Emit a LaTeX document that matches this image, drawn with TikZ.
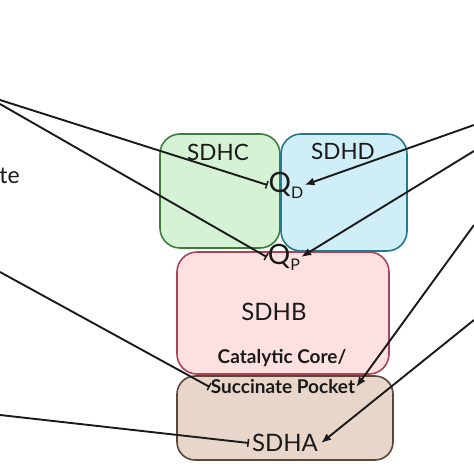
\documentclass[tikz,border=0pt]{standalone}
\usepackage{fontspec}
\setmainfont{Lato}
\usetikzlibrary{arrows.meta}
\definecolor{cfill}{HTML}{D5F2D5}\definecolor{cdraw}{HTML}{3D7D3D}
\definecolor{dfill}{HTML}{CFEEF7}\definecolor{ddraw}{HTML}{237A87}
\definecolor{bfill}{HTML}{FDE1E1}\definecolor{bdraw}{HTML}{A8445A}
\definecolor{afill}{HTML}{E8D6CB}\definecolor{adraw}{HTML}{5B4637}
\definecolor{ink}{HTML}{1A1A1A}
\tikzset{
  sub/.style={rounded corners=20pt, line width=1.6pt, inner sep=0pt},
  lbl/.style={inner sep=1pt, text=ink},
  inhib/.style={line width=1.9pt, draw=ink, -{Bar[width=8pt,line width=1.5pt]}},
  act/.style={line width=1.9pt, draw=ink, -{Latex[length=10pt,width=8pt]}},
}
\begin{document}
\begin{tikzpicture}[x=1pt,y=-1pt]
\useasboundingbox (0,0) rectangle (474,474);
% boxes
\node[sub, draw=cdraw, fill=cfill, minimum width=120pt, minimum height=114pt] (sdhc) at (220,191) {};
\node[sub, draw=ddraw, fill=dfill, minimum width=126pt, minimum height=117pt] (sdhd) at (344,192.5) {};
\node[sub, draw=adraw, fill=afill, minimum width=216pt, minimum height=84pt, rounded corners=18pt] (sdha) at (285,418) {};
\node[sub, draw=bdraw, fill=bfill, minimum width=212pt, minimum height=122pt] (sdhb) at (283,313) {};
% labels
\node[lbl, font=\fontsize{22.5}{22.5}\selectfont] (tc) at (218,152) {SDHC};
\node[lbl, font=\fontsize{22.5}{22.5}\selectfont] (td) at (343,151) {SDHD};
\node[lbl, font=\fontsize{24}{24}\selectfont] (tb) at (274,312) {SDHB};
\node[lbl, font=\fontsize{19}{19}\bfseries\selectfont] (cc) at (282,358) {Catalytic Core/};
\node[lbl, font=\fontsize{19}{19}\bfseries\selectfont] (sp) at (283,387) {Succinate Pocket};
\node[lbl, inner sep=3pt, font=\fontsize{24}{24}\selectfont] (ta) at (285,443) {SDHA};
\node[lbl, font=\fontsize{28}{28}\selectfont] (qd) at (286,185) {Q\raisebox{-6pt}{\fontsize{16}{16}\selectfont D}};
\node[lbl, font=\fontsize{28}{28}\selectfont] (qp) at (284,257) {Q\raisebox{-6pt}{\fontsize{16}{16}\selectfont P}};
\node[lbl, anchor=east, font=\fontsize{23}{23}\selectfont] (te) at (21,176) {te};
% free ends
\coordinate (l1) at (0,100);
\coordinate (l2) at (0,104);
\coordinate (l3) at (0,272);
\coordinate (l4) at (0,415);
\coordinate (r1) at (474,125);
\coordinate (r2) at (474,151);
\coordinate (r3) at (474,225);
\coordinate (r4) at (474,320);
% connectors
\draw[inhib] (l1) -- (qd.west);
\draw[inhib] (l2) -- (qp.west);
\draw[inhib] (l3) -- (sp.west);
\draw[inhib] (l4) -- (ta.west);
\draw[act] (r1) -- (qd.east);
\draw[act] (r2) -- (qp.east);
\draw[act] (r3) -- (sp.east);
\draw[act] (r4) -- (ta.east);
\end{tikzpicture}
\end{document}
